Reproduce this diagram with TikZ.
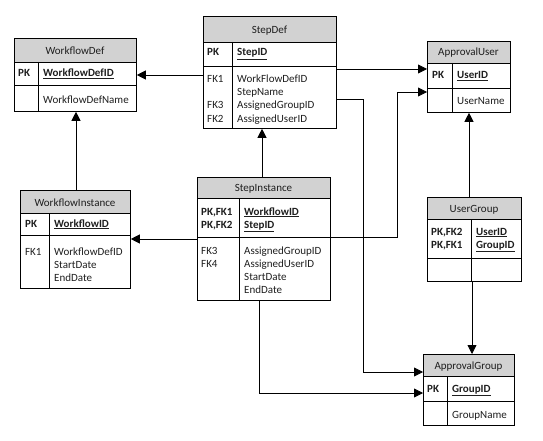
\documentclass[tikz,border=0pt]{standalone}
\usepackage{fontspec}
\setmainfont{Carlito}
\usetikzlibrary{arrows.meta}
\definecolor{hdrgray}{RGB}{210,210,210}
\definecolor{txtc}{RGB}{30,30,30}
\tikzset{
  tbl/.style={draw=black, line width=0.8pt, inner sep=0pt, anchor=north west},
  txt/.style={inner sep=0pt, anchor=base west, font=\fontsize{11}{13}\selectfont, text=txtc},
  ttl/.style={txt, anchor=base},
  fk/.style={draw=black, line width=0.8pt, -{Triangle[length=9pt,width=9pt]}},
  sepline/.style={draw=black, line width=0.8pt}
}
% name x1 y1 x2 y2 headerbottom pkbottom column
\newcommand\erbox[8]{%
  \fill[hdrgray] (#2,#3) rectangle (#4,#6);
  \node[tbl, minimum width={#4pt-#2pt}, minimum height={#5pt-#3pt}] (#1) at (#2,#3) {};
  \draw[sepline] (#1.west |- 0,#6) -- (#1.east |- 0,#6);
  \draw[sepline] (#1.west |- 0,#7) -- (#1.east |- 0,#7);
  \draw[sepline] (#8,#6) -- (#1.south -| #8,0);
}
\newcommand\kb[1]{\textbf{#1}}
\newcommand\pkn[1]{\textbf{\underline{#1}}}
\begin{document}
\begin{tikzpicture}[x=1pt,y=-1pt]
\useasboundingbox (0,0) rectangle (543,441);

% WorkflowDef
\erbox{wd}{14}{38}{136}{111}{62}{85}{38}
\node[ttl] (wdt) at (75,55) {WorkflowDef};
\node[txt] (wdk) at (18,77) {\kb{PK}};
\node[txt] (wdn) at (43,77) {\pkn{WorkflowDefID}};
\node[txt] (wda) at (43,104) {WorkflowDefName};

% StepDef
\erbox{sd}{203}{16}{336}{128}{42}{66}{232}
\node[ttl] (sdt) at (269.5,34) {StepDef};
\node[txt] (sdk) at (207,56) {\kb{PK}};
\node[txt] (sdn) at (237,56) {\pkn{StepID}};
\node[txt] (sdf1) at (207,83) {FK1};
\node[txt] (sda1) at (237,83) {WorkFlowDefID};
\node[txt] (sda2) at (237,96) {StepName};
\node[txt] (sdf3) at (207,109) {FK3};
\node[txt] (sda3) at (237,109) {AssignedGroupID};
\node[txt] (sdf2) at (207,122) {FK2};
\node[txt] (sda4) at (237,122) {AssignedUserID};

% ApprovalUser
\erbox{au}{427}{41}{510}{112}{63}{88}{452}
\node[ttl] (aut) at (468.5,56) {ApprovalUser};
\node[txt] (auk) at (432,79) {\kb{PK}};
\node[txt] (aun) at (457,79) {\pkn{UserID}};
\node[txt] (aua) at (457,105) {UserName};

% WorkflowInstance
\erbox{wi}{20}{190}{130}{288}{213}{235}{49}
\node[ttl] (wit) at (75,206) {WorkflowInstance};
\node[txt] (wik) at (25,227) {\kb{PK}};
\node[txt] (win) at (54,227) {\pkn{WorkflowID}};
\node[txt] (wif1) at (25,255) {FK1};
\node[txt] (wia1) at (54,255) {WorkflowDefID};
\node[txt] (wia2) at (54,268) {StartDate};
\node[txt] (wia3) at (54,281) {EndDate};

% StepInstance
\erbox{si}{197}{177}{330}{300}{198}{237}{239}
\node[ttl] (sit) at (263.5,191) {StepInstance};
\node[txt] (sik1) at (201,215) {\kb{PK,FK1}};
\node[txt] (sin1) at (244,215) {\pkn{WorkflowID}};
\node[txt] (sik2) at (201,228) {\kb{PK,FK2}};
\node[txt] (sin2) at (244,228) {\pkn{StepID}};
\node[txt] (sif3) at (201,254) {FK3};
\node[txt] (sia1) at (244,254) {AssignedGroupID};
\node[txt] (sif4) at (201,267) {FK4};
\node[txt] (sia2) at (244,267) {AssignedUserID};
\node[txt] (sia3) at (244,280) {StartDate};
\node[txt] (sia4) at (244,293) {EndDate};

% UserGroup
\erbox{ug}{427}{197}{521}{281}{219}{258}{471}
\node[ttl] (ugt) at (474,212) {UserGroup};
\node[txt] (ugk1) at (431,235) {\kb{PK,FK2}};
\node[txt] (ugn1) at (476,235) {\pkn{UserID}};
\node[txt] (ugk2) at (431,248) {\kb{PK,FK1}};
\node[txt] (ugn2) at (476,248) {\pkn{GroupID}};

% ApprovalGroup
\erbox{ag}{423}{354}{514}{425}{376}{401}{447}
\node[ttl] (agt) at (468.5,369) {ApprovalGroup};
\node[txt] (agk) at (427,392) {\kb{PK}};
\node[txt] (agn) at (452,392) {\pkn{GroupID}};
\node[txt] (aga) at (452,418) {GroupName};

% connectors
\draw[fk] (sd.west |- 0,75) -- (wd.east |- 0,75);
\draw[fk] (wi.north -| 76,0) -- (wd.south -| 76,0);
\draw[fk] (sd.east |- 0,69) -- (au.west |- 0,69);
\draw[fk] (sd.east |- 0,99) -- (363,99) -- (363,372) -- (ag.west |- 0,372);
\draw[fk] (si.east |- 0,237) -- (397,237) -- (397,92) -- (au.west |- 0,92);
\draw[fk] (si.north -| 262,0) -- (sd.south -| 262,0);
\draw[fk] (si.west |- 0,239) -- (wi.east |- 0,239);
\draw[fk] (si.south -| 259,0) -- (259,393) -- (ag.west |- 0,393);
\draw[fk] (ug.north -| 469,0) -- (au.south -| 469,0);
\draw[fk] (ug.south -| 472,0) -- (ag.north -| 472,0);
\end{tikzpicture}
\end{document}
